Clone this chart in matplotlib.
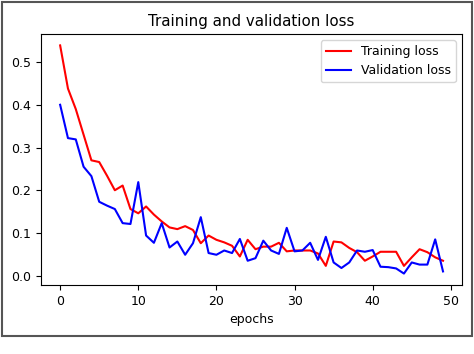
import matplotlib
matplotlib.use("Agg")
import matplotlib.pyplot as plt
from matplotlib.patches import Rectangle

# Loss values per epoch
epochs = list(range(50))
training_loss = [
    0.539, 0.438, 0.39, 0.33, 0.27, 0.266, 0.234, 0.20, 0.211, 0.156,
    0.146, 0.162, 0.143, 0.127, 0.113, 0.109, 0.116, 0.107, 0.076, 0.094,
    0.084, 0.078, 0.070, 0.045, 0.084, 0.062, 0.068, 0.068, 0.077, 0.057,
    0.059, 0.059, 0.059, 0.052, 0.023, 0.080, 0.078, 0.065, 0.055, 0.035,
    0.045, 0.056, 0.056, 0.056, 0.023, 0.043, 0.062, 0.055, 0.043, 0.035,
]
validation_loss = [
    0.400, 0.322, 0.319, 0.255, 0.233, 0.173, 0.164, 0.156, 0.123, 0.121,
    0.219, 0.094, 0.077, 0.123, 0.066, 0.080, 0.049, 0.076, 0.137, 0.053,
    0.049, 0.059, 0.053, 0.086, 0.035, 0.041, 0.082, 0.059, 0.051, 0.112,
    0.057, 0.059, 0.077, 0.037, 0.091, 0.031, 0.018, 0.031, 0.059, 0.056,
    0.060, 0.021, 0.020, 0.017, 0.005, 0.031, 0.026, 0.026, 0.085, 0.010,
]

fig = plt.figure(figsize=(4.74, 3.54), dpi=100)
ax = fig.add_axes([0.0865, 0.195, 0.8885, 0.709])

ax.plot(epochs, training_loss, "r", lw=1.5, label="Training loss")
ax.plot(epochs, validation_loss, "b", lw=1.5, label="Validation loss")

ax.set_title("Training and validation loss", fontsize=10.8)
ax.set_xlabel("epochs", fontsize=9)
ax.tick_params(labelsize=9)
ax.legend(loc="upper right", fontsize=9)

# grey frame around the whole picture, like the screenshot
fig.patches.append(Rectangle((0.004, 0.051), 0.991, 0.943, transform=fig.transFigure,
                             fill=False, edgecolor="#555555", lw=1.5))

fig.savefig("out.png", dpi=100)
